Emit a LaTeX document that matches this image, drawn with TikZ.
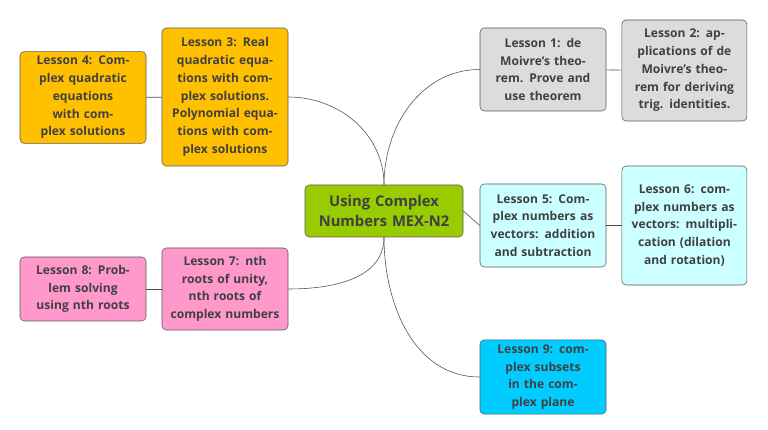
\documentclass[tikz,border=0pt]{standalone}
\usepackage{fontspec}
\setmainfont{Open Sans}
\definecolor{lgray}{HTML}{DCDCDC}
\definecolor{lyellow}{HTML}{FFC000}
\definecolor{lcyan}{HTML}{CCFFFF}
\definecolor{lpink}{HTML}{FF99CC}
\definecolor{lblue}{HTML}{00CCFF}
\definecolor{lgreen}{HTML}{99CC00}
\tikzset{
  lesson/.style={draw=gray!70!black, rounded corners=3pt, align=center,
    text width=2.75cm, minimum width=3.15cm, font=\bfseries\fontsize{8.6}{12.6}\selectfont,
    text=black!75},
  link/.style={draw=gray!60!black, thin}
}
\begin{document}
\begin{tikzpicture}
    \useasboundingbox (0,0) rectangle (19.2,-10.75);

    % Centre topic
    \node[lesson, fill=lgreen, minimum width=3.95cm, minimum height=1.3cm, text width=3.6cm,
      font=\bfseries\fontsize{10.5}{14}\selectfont] (c) at (9.6,-5.275) {Using Complex\\Numbers MEX-N2};

    % Lessons
    \node[lesson, fill=lgray, minimum height=2.075cm] (l1) at (13.575,-1.7375) {Lesson 1: de Moivre's theorem. Prove and use theorem};
    \node[lesson, fill=lgray, minimum width=3.125cm, minimum height=2.525cm] (l2) at (17.11,-1.7625) {Lesson 2: applications of de Moivre's theorem for deriving trig. identities.};
    \node[lesson, fill=lyellow, minimum height=3.45cm] (l3) at (5.625,-2.425) {Lesson 3: Real quadratic equations with complex solutions. Polynomial equations with complex solutions};
    \node[lesson, fill=lyellow, minimum height=2.075cm] (l4) at (2.075,-2.4375) {Lesson 4: Complex quadratic equations with complex solutions};
    \node[lesson, fill=lcyan, minimum height=2.075cm] (l5) at (13.575,-5.6375) {Lesson 5: Complex numbers as vectors: addition and subtraction};
    \node[lesson, fill=lcyan, minimum width=3.125cm, minimum height=2.975cm] (l6) at (17.11,-5.6375) {Lesson 6: complex numbers as vectors: multiplication (dilation and rotation)};
    \node[lesson, fill=lpink, minimum height=2.05cm] (l7) at (5.625,-7.225) {Lesson 7: nth roots of unity, nth roots of complex numbers};
    \node[lesson, fill=lpink, minimum height=1.6cm] (l8) at (2.075,-7.225) {Lesson 8: Problem solving using nth roots};
    \node[lesson, fill=lblue, minimum height=1.6cm] (l9) at (13.575,-9.425) {Lesson 9: complex subsets in the complex plane};

    % Branches
    \draw[link] (c.north) to[out=90, in=180] (l1.west);
    \draw[link] (c.north) to[out=90, in=0] (l3.east);
    \draw[link] (c.east) -- (l5.west);
    \draw[link] (c.south) to[out=-90, in=0] (l7.east);
    \draw[link] (c.south) to[out=-90, in=180] (l9.west);
    \draw[link] (l1) -- (l2);
    \draw[link] (l3) -- (l4);
    \draw[link] (l5) -- (l6);
    \draw[link] (l7) -- (l8);
\end{tikzpicture}
\end{document}
